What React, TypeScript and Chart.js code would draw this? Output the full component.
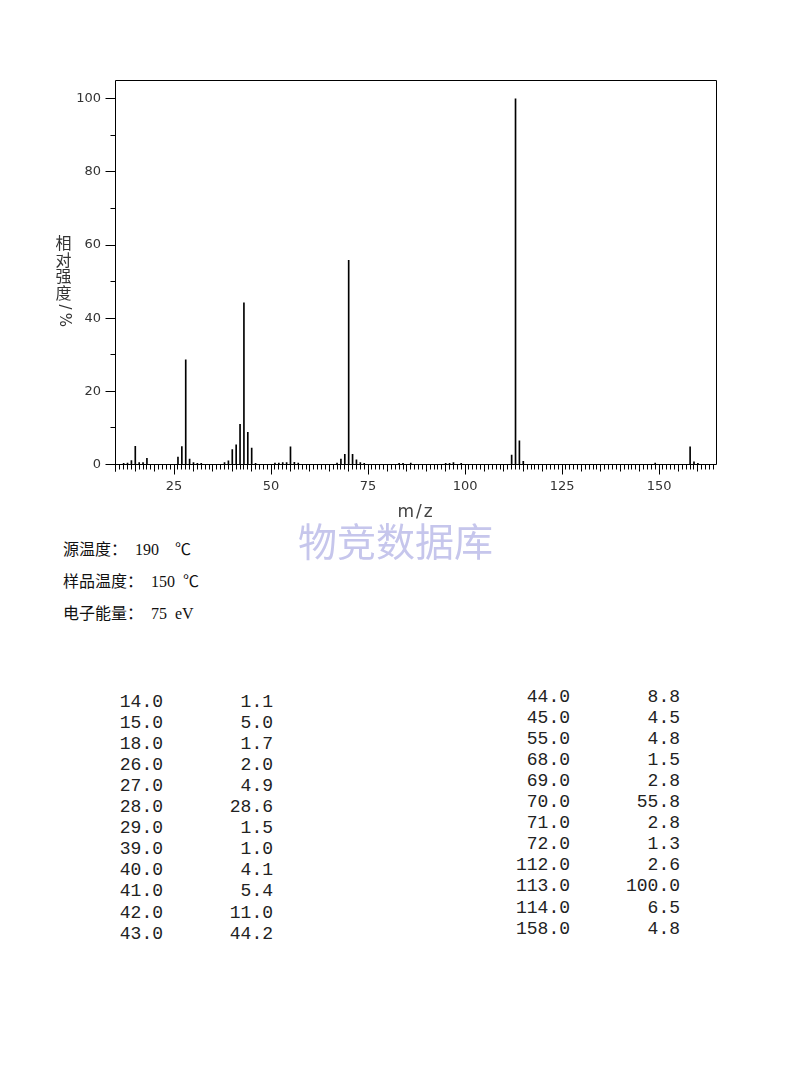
import React, { useEffect, useRef } from 'react';
import { Chart, registerables } from 'chart.js';

Chart.register(...registerables);

// peaks listed in the table under the spectrum
const listedMz = [14, 15, 18, 26, 27, 28, 29, 39, 40, 41, 42, 43, 44, 45, 55, 68, 69, 70, 71, 72, 112, 113, 114, 158];
const listedIntensity = [1.1, 5.0, 1.7, 2.0, 4.9, 28.6, 1.5, 1.0, 4.1, 5.4, 11.0, 44.2, 8.8, 4.5, 4.8, 1.5, 2.8, 55.8, 2.8, 1.3, 2.6, 100.0, 6.5, 4.8];

// small peaks seen on the plot but not in the table (estimated)
const minorMz = [12, 13, 16, 17, 30, 31, 32, 38, 46, 51, 52, 53, 54, 56, 57, 67, 73, 74, 83, 84, 86, 95, 96, 97, 99, 115, 149, 159, 160];
const minorIntensity = [0.3, 0.4, 0.5, 0.5, 0.5, 0.3, 0.3, 0.5, 0.3, 0.4, 0.4, 0.5, 0.5, 0.6, 0.4, 0.4, 0.5, 0.3, 0.3, 0.3, 0.4, 0.3, 0.3, 0.5, 0.3, 0.9, 0.4, 0.7, 0.3];

const xTicks = [25, 50, 75, 100, 125, 150];
const yTicks = [0, 20, 40, 60, 80, 100];
const yTitle = ['相', '对', '强', '度', '/', '%'];
const xTitle = 'm/z';
const infoLines = ['源温度： 190  ℃', '样品温度： 150 ℃', '电子能量： 75 eV'];
const watermark = '物竞数据库';

const X_MIN = 9.9;
const X_MAX = 164.8;
const Y_MAX = 105;

const framePlugin = {
  id: 'spectrumFrame',
  afterDraw(chart: Chart) {
    const { ctx, chartArea } = chart;
    const xs = chart.scales.x;
    const ys = chart.scales.y;
    const { left, right, top, bottom } = chartArea;
    ctx.save();
    ctx.strokeStyle = '#000';
    ctx.lineWidth = 1;
    ctx.beginPath();
    ctx.moveTo(left, bottom + 7);
    ctx.lineTo(left, top);
    ctx.lineTo(right, top);
    ctx.lineTo(right, bottom);
    ctx.moveTo(left, bottom);
    ctx.lineTo(right, bottom);

    for (let m = Math.ceil(X_MIN); m <= Math.floor(X_MAX); m++) {
      const len = m % 25 === 0 ? 10 : m % 5 === 0 ? 7 : 5;
      const px = Math.floor(xs.getPixelForValue(m)) + 0.5;
      ctx.moveTo(px, bottom);
      ctx.lineTo(px, bottom + len);
    }
    for (let v = 0; v <= 100; v += 10) {
      const len = v % 20 === 0 ? 10 : 5;
      const py = Math.floor(ys.getPixelForValue(v)) + 0.5;
      ctx.moveTo(left, py);
      ctx.lineTo(left - len, py);
    }
    ctx.stroke();

    // y title, vertical with latin glyphs turned sideways
    ctx.fillStyle = '#333';
    ctx.font = '16px "Noto Sans CJK SC"';
    ctx.textAlign = 'center';
    ctx.textBaseline = 'middle';
    const cy = [243, 259.5, 276, 292.5, 307, 320];
    yTitle.forEach((ch, i) => {
      if (/[\/%]/.test(ch)) {
        ctx.save();
        ctx.translate(63.5, cy[i]);
        ctx.rotate(Math.PI / 2);
        ctx.font = '15px "DejaVu Sans"';
        ctx.fillText(ch, 0, 0);
        ctx.restore();
      } else {
        ctx.fillText(ch, 63.5, cy[i]);
      }
    });

    // x title
    ctx.fillStyle = '#444';
    ctx.font = '17px "DejaVu Sans"';
    (ctx as any).letterSpacing = '2px';
    ctx.fillText(xTitle, (left + right) / 2, 513);
    ctx.restore();
  },
};

function SpectrumChart() {
  const canvasRef = useRef<HTMLCanvasElement>(null);

  useEffect(() => {
    if (!canvasRef.current) return;
    const points = [...listedMz.map((x, i) => ({ x, y: listedIntensity[i] })), ...minorMz.map((x, i) => ({ x, y: minorIntensity[i] }))].sort(
      (a, b) => a.x - b.x
    );
    const tickFont = { family: '"DejaVu Sans"', size: 13 };

    const chart = new Chart(canvasRef.current, {
      type: 'bar',
      data: {
        datasets: [
          {
            data: points,
            backgroundColor: '#000',
            borderWidth: 0,
            barThickness: 1,
          },
        ],
      },
      options: {
        responsive: true,
        maintainAspectRatio: false,
        animation: false,
        events: [],
        layout: { padding: { top: 80.5, right: 77.5, left: 0, bottom: 0 } },
        plugins: { legend: { display: false }, tooltip: { enabled: false } },
        scales: {
          x: {
            type: 'linear',
            min: X_MIN,
            max: X_MAX,
            offset: false,
            grid: { display: false, drawTicks: false },
            border: { display: false },
            afterBuildTicks: (s: any) => {
              s.ticks = xTicks.map((value) => ({ value }));
            },
            afterFit: (s: any) => {
              s.height = 75.5;
            },
            ticks: { padding: 14, color: '#333', font: tickFont, maxRotation: 0, autoSkip: false },
          },
          y: {
            min: 0,
            max: Y_MAX,
            grid: { display: false, drawTicks: false },
            border: { display: false },
            afterBuildTicks: (s: any) => {
              s.ticks = yTicks.map((value) => ({ value }));
            },
            afterFit: (s: any) => {
              s.width = 115.5;
            },
            ticks: { padding: 14.5, color: '#333', font: tickFont },
          },
        },
      },
      plugins: [framePlugin],
    });

    return () => {
      chart.destroy();
    };
  }, []);

  return (
    <div style={{ position: 'absolute', left: 0, top: 0, width: 794, height: 540 }}>
      <canvas ref={canvasRef} />
    </div>
  );
}

const mono = '"Liberation Mono", "DejaVu Sans Mono", monospace';

export default function App() {
  const half = 12;
  const rows = listedMz.map((mz, i) => {
    const right = i >= half;
    const row = right ? i - half : i;
    const cy = (right ? 697 : 702) + row * 21.1;
    const mzRight = right ? 570 : 163;
    const valRight = right ? 680 : 273;
    const cell = { position: 'absolute' as const, top: cy - 10.5, height: 21, lineHeight: '21px', textAlign: 'right' as const, whiteSpace: 'pre' as const };
    return (
      <React.Fragment key={mz}>
        <div style={{ ...cell, left: mzRight - 80, width: 80 }}>{mz.toFixed(1)}</div>
        <div style={{ ...cell, left: valRight - 80, width: 80 }}>{listedIntensity[i].toFixed(1)}</div>
      </React.Fragment>
    );
  });

  return (
    <div style={{ position: 'absolute', left: 0, top: 0, width: 794, height: 1077, background: '#fff', overflow: 'hidden' }}>
      <SpectrumChart />
      <div
        style={{
          position: 'absolute',
          left: 298,
          top: 520,
          fontSize: 39,
          lineHeight: '39px',
          color: '#c6c6ec',
          fontFamily: '"Noto Sans CJK SC"',
          whiteSpace: 'pre',
        }}
      >
        {watermark}
      </div>
      {infoLines.map((t, i) => (
        <div
          key={t}
          style={{
            position: 'absolute',
            left: 63,
            top: 540 + i * 32,
            fontSize: 16,
            lineHeight: '20px',
            color: '#111',
            fontFamily: '"Liberation Serif", "Noto Sans CJK SC"',
            whiteSpace: 'pre',
            wordSpacing: 4,
          }}
        >
          {t}
        </div>
      ))}
      <div style={{ fontFamily: mono, fontSize: 18, color: '#222' }}>{rows}</div>
    </div>
  );
}
